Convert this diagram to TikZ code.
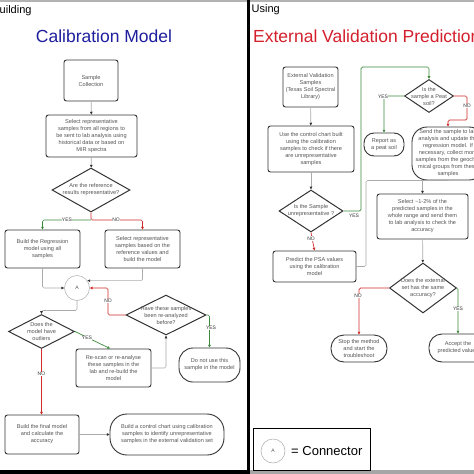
\documentclass[tikz,border=0pt]{standalone}
\usepackage{fontspec}
\setmainfont{Liberation Sans}
\usetikzlibrary{shapes.geometric,arrows.meta}
\definecolor{boxc}{HTML}{333333}
\definecolor{txtc}{HTML}{555555}
\definecolor{linec}{HTML}{ABABAB}
\definecolor{grn}{HTML}{3C8A3C}
\definecolor{rdc}{HTML}{D02A2A}
\definecolor{ttlblue}{HTML}{1E1E9E}
\definecolor{ttlred}{HTML}{D4202C}
\begin{document}
\begin{tikzpicture}[x=1pt,y=-1pt,
  txt/.style={font=\fontsize{5.6}{7}\selectfont, text=txtc, align=center},
  box/.style={txt, draw=boxc, line width=0.9pt, rounded corners=2.5pt, inner sep=0pt},
  term/.style={box, rounded corners=#1},
  dia/.style={draw=boxc, line width=1pt, diamond, inner sep=0pt},
  dtxt/.style={txt, inner sep=0pt},
  conn/.style={circle, draw=linec, line width=0.5pt, text=txtc, font=\fontsize{5}{6}\selectfont, inner sep=0pt},
  lbl/.style={font=\fontsize{5}{6}\selectfont, text=boxc, fill=white, inner sep=0.4pt},
  gl/.style={draw=linec, line width=0.6pt, rounded corners=1.5pt},
  ga/.style={gl, -{Triangle[length=2.8pt,width=2.6pt,color=boxc]}},
  gn/.style={draw=grn, line width=0.7pt, rounded corners=1.5pt, -{Triangle[length=2.8pt,width=2.6pt]}},
  rn/.style={draw=rdc, line width=0.7pt, rounded corners=1.5pt, -{Triangle[length=2.8pt,width=2.6pt]}}
]
\useasboundingbox (0,0) rectangle (474,474);
\clip (0,0) rectangle (474,474);
\fill[white] (0,0) rectangle (474,474);
% frame bars
\fill[gray!60] (0,0) rectangle (474,2);
\fill[black] (0,469.5) rectangle (249,474);
\fill[gray!70] (249,469.5) rectangle (474,474);
\draw[black, line width=2.6pt] (248.3,0) -- (248.3,474);

% ---------- titles ----------
\node[anchor=west, font=\fontsize{11}{13}\selectfont, inner sep=0pt] (h1) at (-0.5,11) {uilding};
\node[font=\fontsize{17.5}{20}\selectfont, text=ttlblue, inner sep=0pt] (t1) at (104,36) {Calibration Model};
\node[anchor=west, font=\fontsize{11}{13}\selectfont, inner sep=0pt] (h2) at (251.5,9.5) {Using};
\node[anchor=west, font=\fontsize{17.5}{20}\selectfont, text=ttlred, inner sep=0pt] (t2) at (253,36) {External Validation Prediction};

% ---------- left panel ----------
\node[box, minimum width=54pt, minimum height=41pt] (s1) at (91,80.5) {Sample\\Collection};
\node[box, minimum width=91pt, minimum height=42pt] (s2) at (91.5,136) {Select representative\\samples from all regions to\\be sent to lab analysis using\\historical data or based on\\MIR spectra};
\node[dia, minimum width=78pt, minimum height=44pt] (d1) at (91,190) {};
\node[dtxt] (d1t) at (d1) {Are the reference\\results representative?};
\node[box, minimum width=75pt, minimum height=38pt] (b1) at (42.5,249) {Build the Regression\\model using all\\samples};
\node[box, minimum width=75pt, minimum height=38pt] (b2) at (142.5,249) {Select representative\\samples based on the\\reference values and\\build the model};
\node[conn, minimum size=25pt] (A) at (77,288) {A};
\node[dia, minimum width=66pt, minimum height=34pt] (d2) at (41.5,331.5) {};
\node[dtxt] (d2t) at (d2) {Does the\\model have\\outliers};
\node[dia, minimum width=80pt, minimum height=40pt] (d3) at (166,315) {};
\node[dtxt] (d3t) at (d3) {Have these samples\\been re-analyzed\\before?};
\node[box, minimum width=75pt, minimum height=38pt] (b3) at (113.5,368) {Re-scan or re-analyse\\these samples in the\\lab and re-build the\\model};
\node[term=14pt, minimum width=61pt, minimum height=34pt] (e1) at (209.5,365) {Do not use this\\sample in the model};
\node[box, minimum width=74pt, minimum height=39pt] (b4) at (42,434.5) {Build the final model\\and calculate the\\accuracy};
\node[term=17pt, minimum width=114pt, minimum height=41pt] (e2) at (167,434.5) {Build a control chart using calibration\\samples to identify unrepresentative\\samples in the external validation set};

\draw[ga] (s1) -- (s2);
\draw[ga] (s2) -- (d1);
\coordinate (j1) at (91,220);
\draw[rn] (d1.south) -- (j1) -| (b2.north);
\draw[gn] (j1) -| (b1.north);
\node[lbl] (y1) at (67,220) {YES};
\node[lbl] (n1) at (116,220) {NO};
\draw[ga] (b1.south) |- (A.west);
\draw[ga] (b2.south) |- (A.35);
\coordinate (j2) at (108,315);
\draw[rn] (d3.west) -- (j2) |- (A.east);
\node[lbl] (n2) at (108,301) {NO};
\coordinate (j3) at (77,310.5);
\draw[ga] (A.south) -- (j3) -| (d2.north);
\draw[gn] (d2.east) -- (b3.100);
\node[lbl] (y2) at (87,338) {YES};
\draw[ga] (b3.east) -| (d3.south);
\draw[gn] (d3.east) -| (e1.north);
\node[lbl] (y3) at (211,328) {YES};
\draw[rn] (d2.south) -- (d2.south |- b4.north);
\node[lbl] (n3) at (41.5,374) {NO};
\draw[ga] (b4) -- (e2);

% ---------- right panel ----------
\node[box, minimum width=55pt, minimum height=40pt] (r1) at (310.5,87) {External Validation\\Samples\\(Texas Soil Spectral\\Library)};
\node[box, minimum width=86pt, minimum height=46pt] (r2) at (311,149) {Use the control chart built\\using the calibration\\samples to check if there\\are unrepresentative\\samples};
\node[dia, minimum width=64pt, minimum height=42pt] (q1) at (311,211) {};
\node[dtxt] (q1t) at (q1) {Is the Sample\\unrepresentative ?};
\node[box, minimum width=83pt, minimum height=31pt] (r3) at (314.5,266.5) {Predict the PSA values\\using the calibration\\model};
\node[dia, minimum width=49pt, minimum height=33pt] (q2) at (429,96) {};
\node[dtxt] (q2t) at (q2) {Is the\\sample a Peat\\soil?};
\node[term=10pt, minimum width=40pt, minimum height=23pt] (f1) at (384,144.5) {Report as\\a peat soil};
\node[term=15pt, minimum width=72pt, minimum height=53pt] (f2) at (448,153.5) {Send the sample to lab\\analysis and update the\\regression model. If\\necessary, collect more\\samples from the geoche-\\mical groups from these\\samples};
\node[box, minimum width=91pt, minimum height=45pt] (r4) at (422.5,216.5) {Select \textasciitilde1-2\% of the\\predicted samples in the\\whole range and send them\\to lab analysis to check the\\accuracy};
\node[dia, minimum width=67pt, minimum height=50pt] (q3) at (423,288) {};
\node[dtxt] (q3t) at (q3) {Does the external\\set has the same\\accuracy?};
\node[term=13pt, minimum width=56pt, minimum height=27pt] (f3) at (359,348.5) {Stop the method\\and start the\\troubleshoot};
\node[term=13pt, minimum width=58pt, minimum height=28pt] (f4) at (458,348) {Accept the\\predicted values};

\draw[ga] (r1) -- (r2);
\draw[ga] (r2) -- (q1);
\draw[rn] (q1.south) -- (r3.north);
\node[lbl] (n4) at (311,238.5) {NO};
\coordinate (k1) at (361,67);
\draw[gn] (q1.east) -| (k1) -| (q2.north);
\node[lbl] (y4) at (354,216) {YES};
\draw[gn] (q2.west) -| (f1.north);
\node[lbl] (y5) at (383,97) {YES};
\coordinate (k2) at (467,120);
\draw[rn] (q2.east) -| (k2) -| (f2.north);
\node[lbl] (n5) at (467,106) {NO};
\coordinate (k3) at (366,180.5);
\draw[gl] (r3.east) -| (k3) -- (f2.south);
\coordinate (k4) at (r4.north |- k3);
\draw[ga] (k4) -- (r4.north);
\draw[ga] (r4) -- (q3);
\draw[rn] (q3.west) -| (f3.north);
\node[lbl] (n6) at (358,296) {NO};
\draw[gn] (q3.east) -| (f4.north);
\node[lbl] (y6) at (458,309) {YES};

% ---------- legend ----------
\node[draw=black, line width=0.8pt, minimum width=117pt, minimum height=42pt, inner sep=0pt] (leg) at (311.5,449) {};
\node[conn, minimum size=24pt] (LA) at (273,451) {A};
\node[anchor=west, font=\fontsize{13}{15}\selectfont, inner sep=0pt] (legt) at (291,451) {= Connector};
\end{tikzpicture}
\end{document}
